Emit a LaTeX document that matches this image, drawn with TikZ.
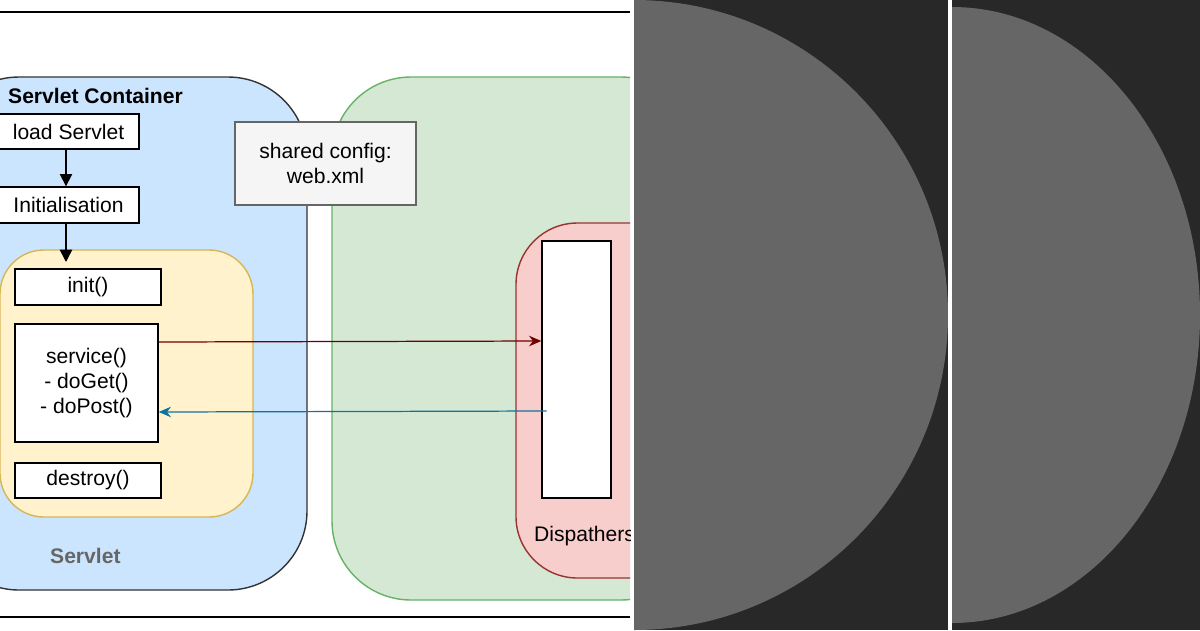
\documentclass[tikz,border=0pt]{standalone}
\usepackage{fontspec}
\setmainfont{Liberation Sans}
\usetikzlibrary{positioning,arrows.meta}
\definecolor{contblue}{HTML}{CCE5FF}
\definecolor{servorange}{HTML}{FFF2CC}
\definecolor{servline}{HTML}{D6B656}
\definecolor{springgreen}{HTML}{D5E8D4}
\definecolor{disppink}{HTML}{F8CECC}
\definecolor{darkpanel}{HTML}{282828}
\definecolor{halfgray}{HTML}{666666}

\begin{document}
\begin{tikzpicture}[
    x=0.02cm, y=-0.02cm,
    font=\fontsize{12}{14.4}\selectfont,
    stage/.style={draw, fill=white, thick, inner sep=0pt, align=center},
    arrow/.style={-{Triangle[length=7pt,width=7pt]}, line width=0.9pt},
    call/.style={-{Stealth[length=7pt,width=6pt]}, line width=0.7pt}
]
\useasboundingbox (0,0) rectangle (1200,630);

% Diagram part, cut off at the right
\begin{scope}
\clip (0,0) rectangle (630,630);
\fill[white] (0,0) rectangle (630,630);
\draw[thick] (0,12) -- (630,12);
\draw[thick] (0,617) -- (630,617);

% Containers
\draw[fill=contblue, draw=black!80, thick, rounded corners=45] (-60,77) rectangle (307,590);
\draw[fill=springgreen, draw=green!50!black!60, thick, rounded corners=45] (332,77) rectangle (700,600);
\draw[fill=disppink, draw=red!50!black!80, thick, rounded corners=35] (516,223) rectangle (700,578);
\draw[fill=servorange, draw=servline, thick, rounded corners=25] (0,250) rectangle (253,517);

\node[anchor=west, font=\fontsize{12}{14.4}\selectfont\bfseries] (title) at (2,96) {Servlet Container};
\node[anchor=north west, font=\fontsize{12}{14.4}\selectfont\bfseries, text=halfgray] (servlet) at (44,542) {Servlet};

% Lifecycle steps
\node[stage, minimum width=141*0.02cm, minimum height=35*0.02cm] (load) at (68.5,131.5) {load Servlet};
\node[stage, minimum width=141*0.02cm, minimum height=36*0.02cm] (initialisation) at (68.5,205) {Initialisation};
\node[stage, minimum width=146*0.02cm, minimum height=36*0.02cm] (init) at (88,287) {init()};
\node[stage, minimum width=143*0.02cm, minimum height=118*0.02cm] (service) at (86.5,383) {service()\\- doGet()\\- doPost()};
\node[stage, minimum width=146*0.02cm, minimum height=35*0.02cm] (destroy) at (88,480.5) {destroy()};

\node[draw=halfgray, fill=black!4, thick, minimum width=181*0.02cm, minimum height=83*0.02cm, align=center] (config) at (325.5,163.5) {shared config:\\web.xml};

\node[draw, fill=white, thick, minimum width=69*0.02cm, minimum height=257*0.02cm] (dispatcher) at (576.5,369.5) {};
\node[anchor=west] (displabel) at (528,536) {Dispathers};

\coordinate (servin) at (66,262);
\draw[arrow] (load.south -| servin) -- (initialisation.north -| servin);
\draw[arrow] (initialisation.south -| servin) -- (servin);
\draw[call, draw={rgb,255:red,111;green,0;blue,0}] (service.east |- 0,342) -- (dispatcher.west |- 0,341);
\draw[call, draw={rgb,255:red,16;green,115;blue,158}] ([xshift=3pt]dispatcher.west |- 0,411) -- (service.east |- 0,412);
\end{scope}

% Dark panel with half discs
\fill[darkpanel] (634,0) rectangle (1200,630);
\fill[halfgray] (634,0) arc[start angle=-90, end angle=90, x radius=314, y radius=315] -- cycle;
\fill[white] (948,0) rectangle (952,630);
\fill[halfgray] (952,7) arc[start angle=-90, end angle=90, x radius=248, y radius=308] -- cycle;
\end{tikzpicture}
\end{document}
